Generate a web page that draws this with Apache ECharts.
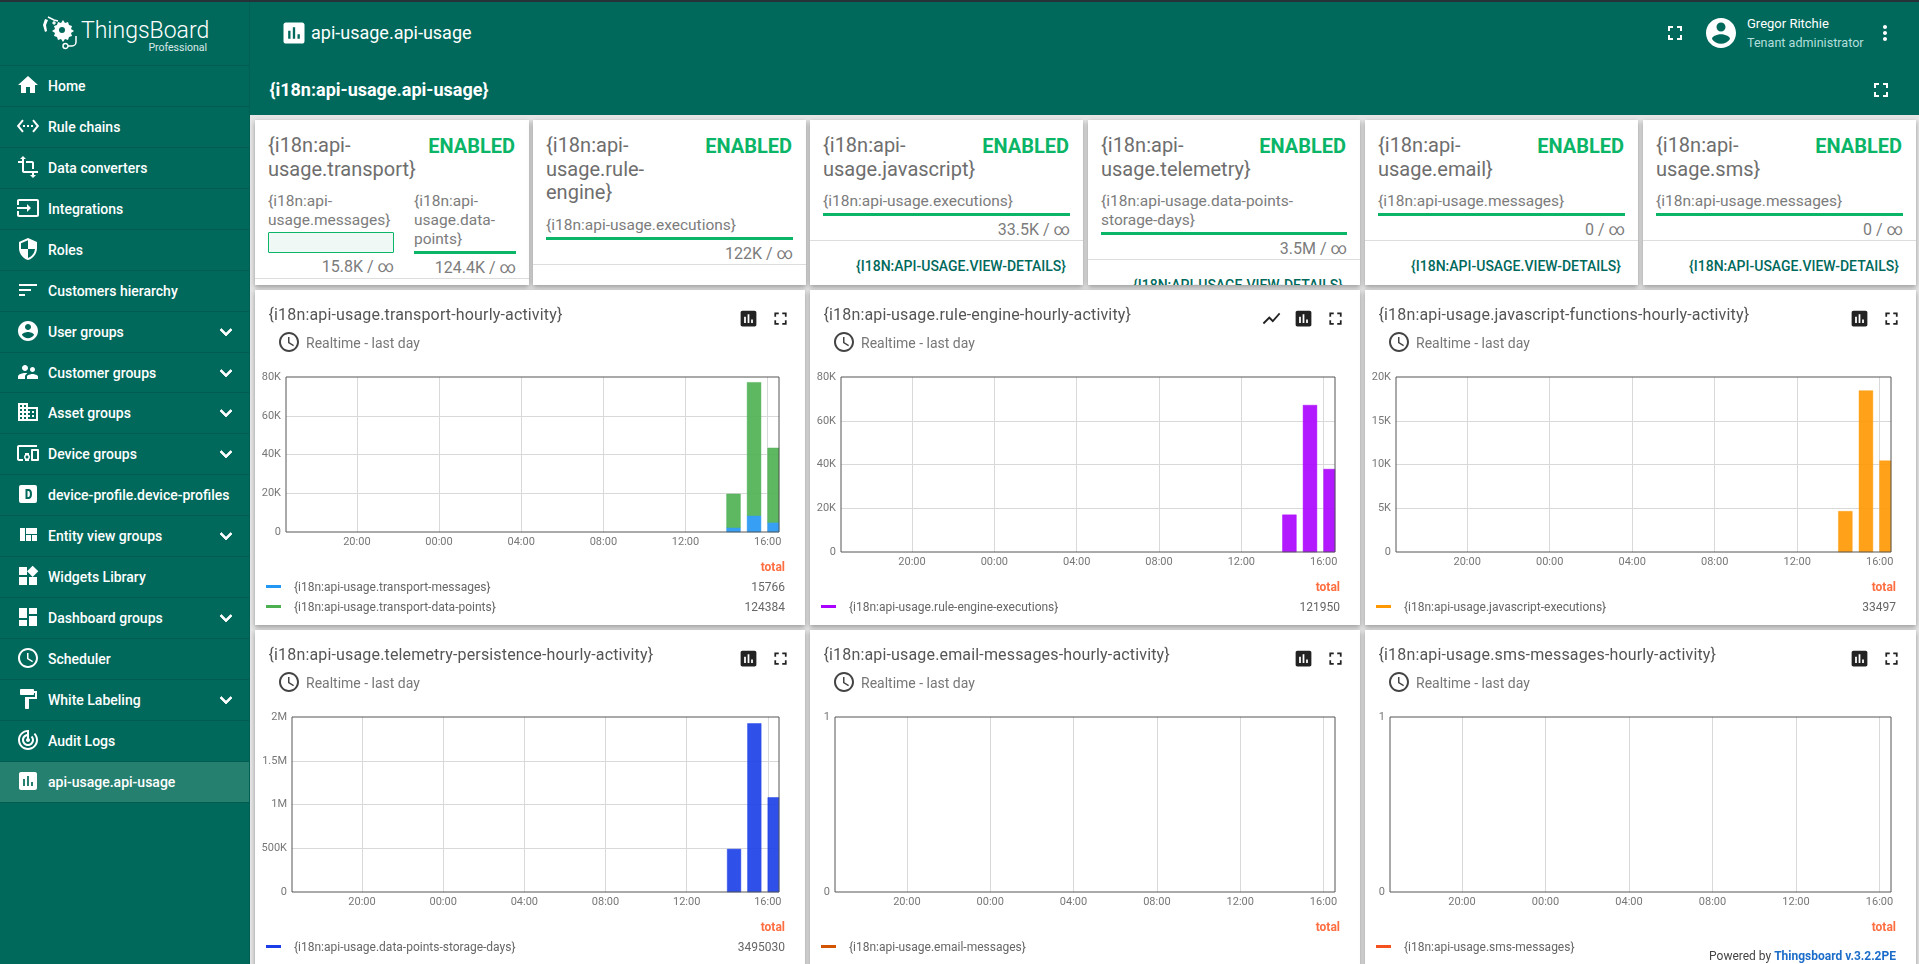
<!DOCTYPE html>
<html>
<head>
<meta charset="utf-8">
<title>api-usage.api-usage</title>
<script src="https://cdn.jsdelivr.net/npm/echarts@6/dist/echarts.min.js"></script>
<style>
html, body { margin: 0; padding: 0; width: 1919px; height: 964px; overflow: hidden; background: #e6e6e6; font-family: Roboto, sans-serif; }
svg { display: block; fill: currentColor; }
.abs { position: absolute; }
#topline { left: 0; top: 0; width: 1919px; height: 2px; background: #263238; z-index: 5; }
#side { left: 0; top: 0; width: 250px; height: 964px; background: #00695c; color: #fff; border-right: 1px solid #005f53; box-sizing: border-box; }
#head { left: 250px; top: 0; width: 1669px; height: 115px; background: #00695c; color: #fff; }
.row { position: absolute; left: 0; width: 249px; height: 41px; border-top: 1px solid #005c50; box-sizing: border-box; }
.row.on { background: #26806f; }
.row span { position: absolute; left: 48px; top: 11px; font-size: 14px; font-weight: 500; line-height: 18px; white-space: nowrap; }
.row svg.i { position: absolute; left: 16px; top: 7px; }
.row svg.c { position: absolute; left: 214px; top: 8px; stroke: currentColor; stroke-width: .8px; }
.usage { position: absolute; top: 120px; height: 165px; background: #fff; box-shadow: 0 2px 5px rgba(0,0,0,.35); overflow: hidden; }
.usage .t { position: absolute; left: 13px; top: 14px; font-size: 20px; line-height: 23.5px; color: #6e6e6e; white-space: nowrap; }
.usage .s { position: absolute; right: 14px; top: 14px; font-size: 20px; line-height: 24px; font-weight: 700; color: #0bb567; }
.usage .b { position: absolute; left: 13px; right: 13px; }
.usage .l { font-size: 15.5px; line-height: 19px; color: #7c7c7c; white-space: nowrap; }
.usage .p { height: 3px; background: #0bb567; margin-top: 2px; }
.usage .v { font-size: 16px; line-height: 22px; margin-top: 3px; color: #7c7c7c; text-align: right; white-space: nowrap; }
.usage .d { position: absolute; left: 0; right: 0; height: 1px; background: #ddd; }
.usage .a { position: absolute; right: 17px; font-size: 14px; line-height: 20px; font-weight: 500; color: #00695c; white-space: nowrap; }
.card { position: absolute; background: #fff; box-shadow: 0 2px 5px rgba(0,0,0,.35); overflow: hidden; }
.card .plot { position: absolute; left: 0; top: 0; width: 100%; height: 100%; }
.card .ttl { position: absolute; left: 13.5px; top: 15px; font-size: 16px; line-height: 20px; color: #555; letter-spacing: .16px; white-space: nowrap; }
.card .clk { position: absolute; left: 22px; top: 40px; color: #444; }
.card .rt { position: absolute; left: 51px; top: 44px; font-size: 14px; line-height: 18px; color: #777; white-space: nowrap; }
.card .ic { position: absolute; top: 18px; color: #222; }
.card .tot { position: absolute; right: 20px; font-size: 12px; line-height: 14px; font-weight: 700; color: #ff6e40; }
.card .sw { position: absolute; left: 11px; width: 15px; height: 3px; }
.card .lg { position: absolute; left: 39px; font-size: 12px; line-height: 14px; color: #666; white-space: nowrap; }
.card .nm { position: absolute; right: 20px; font-size: 12px; line-height: 14px; color: #666; white-space: nowrap; }
</style>
</head>
<body>
<div id="topline" class="abs"></div>
<div id="side" class="abs">
  <svg class="abs" style="left:42px;top:13px" width="38" height="38" viewBox="0 0 38 38"><path d="M12 9a1 1 0 1 0 .1 0zM6 4l6 3 4 1" fill="none" stroke="#fff" stroke-width="1.4"/><path d="M3 6 1 12l2 7 2-1-1-6 2-5z"/><path d="M21 7l2 3 3-1 1 3 3 1-1 3 3 2-3 2 1 3-3 1-1 3-3-1-2 3-2-3-3 1-1-3-3-1 1-3-3-2 3-2-1-3 3-1 1-3 3 1z"/><circle cx="20" cy="17" r="3" fill="#00695c"/><path d="M34 23v6a4 4 0 0 1-4 4h-4M26 33a2.500 2.500 0 1 0-5 0 2.500 2.500 0 1 0 5 0z" fill="none" stroke="#fff" stroke-width="1.500"/></svg>
  <div class="abs" style="left:81px;top:16px;font-size:23px;line-height:30px;font-weight:300;white-space:nowrap">ThingsBoard</div>
  <div class="abs" style="right:42px;top:41px;font-size:10.500px;line-height:13px;opacity:.85">Professional</div>
</div>
<div id="head" class="abs">
  <svg class="abs" style="left:30px;top:19px" width="28" height="28" viewBox="0 0 24 24"><path d="M19 3H5c-1.100 0-2 .9-2 2v14c0 1.100.9 2 2 2h14c1.100 0 2-.9 2-2V5c0-1.100-.9-2-2-2zM9 17H7v-7h2v7zm4 0h-2V7h2v10zm4 0h-2v-4h2v4z"/></svg>
  <div class="abs" style="left:61px;top:21px;font-size:18px;line-height:24px;font-weight:400;white-space:nowrap">api-usage.api-usage</div>
  <div class="abs" style="left:19.500px;top:78px;font-size:18px;line-height:24px;font-weight:700;white-space:nowrap">{i18n:api-usage.api-usage}</div>
  <svg class="abs" style="left:1413px;top:21px" width="24" height="24" viewBox="0 0 24 24"><path d="M7 14H5v5h5v-2H7v-3zm-2-4h2V7h3V5H5v5zm12 7h-3v2h5v-5h-2v3zM14 5v2h3v3h2V5h-5z"/></svg>
  <svg class="abs" style="left:1453px;top:15px" width="36" height="36" viewBox="0 0 24 24"><path d="M12 2C6.480 2 2 6.480 2 12s4.480 10 10 10 10-4.480 10-10S17.520 2 12 2zm0 3c1.660 0 3 1.340 3 3s-1.340 3-3 3-3-1.340-3-3 1.340-3 3-3zm0 14.200c-2.500 0-4.710-1.280-6-3.220.03-1.990 4-3.080 6-3.080 1.990 0 5.970 1.090 6 3.080-1.290 1.940-3.500 3.220-6 3.220z"/></svg>
  <div class="abs" style="left:1497px;top:15px;font-size:13px;line-height:17px;white-space:nowrap">Gregor Ritchie</div>
  <div class="abs" style="left:1497px;top:34px;font-size:12.600px;line-height:17px;color:#b2dfdb;white-space:nowrap">Tenant administrator</div>
  <svg class="abs" style="left:1623px;top:21px" width="24" height="24" viewBox="0 0 24 24"><path d="M12 8c1.100 0 2-.9 2-2s-.9-2-2-2-2 .9-2 2 .9 2 2 2zm0 2c-1.100 0-2 .9-2 2s.9 2 2 2 2-.9 2-2-.9-2-2-2zm0 6c-1.100 0-2 .9-2 2s.9 2 2 2 2-.9 2-2-.9-2-2-2z"/></svg>
  <svg class="abs" style="left:1619px;top:78px" width="24" height="24" viewBox="0 0 24 24"><path d="M7 14H5v5h5v-2H7v-3zm-2-4h2V7h3V5H5v5zm12 7h-3v2h5v-5h-2v3zM14 5v2h3v3h2V5h-5z"/></svg>
</div>
<div id="cards"></div>
<div class="abs" style="right:23px;top:949px;font-size:12px;line-height:15px;color:#444;z-index:4;white-space:nowrap">Powered by <b style="color:#1c6dc9;font-weight:700">Thingsboard v.3.2.2PE</b></div>

<script>
// hourly buckets that have data, everything earlier in the window is empty
var barHours = [14, 15, 16];
var transportMessages = [2300, 8500, 4966];
var transportDataPoints = [17300, 68700, 38384];
var ruleEngineExecutions = [17000, 67100, 37850];
var javascriptExecutions = [4650, 18430, 10417];
var storageDays = [490000, 1925000, 1080030];
var emailMessages = [];
var smsMessages = [];

var transportTotals = ['15766', '124384'];
var ruleEngineTotals = ['121950'];
var javascriptTotals = ['33497'];
var storageTotals = ['3495030'];
var noTotals = [''];

var icons = {
    home: 'M10 20v-6h4v6h5v-8h3L12 3 2 12h3v8z',
    rule: 'M7.770 6.760L6.230 5.480.82 12l5.410 6.520 1.540-1.280L3.420 12l4.350-5.240zM7 13h2v-2H7v2zm10-2h-2v2h2v-2zm-6 2h2v-2h-2v2zm6.770-7.520l-1.540 1.280L20.580 12l-4.350 5.240 1.540 1.280L23.180 12l-5.410-6.520z',
    transform: 'M22 18v-2H8V4h2L7 1 4 4h2v2H2v2h4v8c0 1.100.9 2 2 2h8v2h-2l3 3 3-3h-2v-2h4zM10 8h6v6h2V8c0-1.100-.9-2-2-2h-6v2z',
    input: 'M21 3.010H3c-1.100 0-2 .9-2 2V9h2V4.990h18v14.030H3V15H1v4.010c0 1.100.9 1.980 2 1.980h18c1.100 0 2-.88 2-1.980v-14c0-1.110-.9-2-2-2zM11 16l4-4-4-4v3H1v2h10v3z',
    shield: 'M12 1L3 5v6c0 5.550 3.840 10.740 9 12 5.160-1.260 9-6.450 9-12V5l-9-4zm0 10.990h7c-.53 4.120-3.280 7.790-7 8.940V12H5V6.300l7-3.110v8.800z',
    sort: 'M3 18h6v-2H3v2zM3 6v2h18V6H3zm0 7h12v-2H3v2z',
    account: 'M12 2C6.480 2 2 6.480 2 12s4.480 10 10 10 10-4.480 10-10S17.520 2 12 2zm0 3c1.660 0 3 1.340 3 3s-1.340 3-3 3-3-1.340-3-3 1.340-3 3-3zm0 14.200c-2.500 0-4.710-1.280-6-3.220.03-1.990 4-3.080 6-3.080 1.990 0 5.970 1.090 6 3.080-1.290 1.940-3.500 3.220-6 3.220z',
    people: 'M16.500 12c1.380 0 2.490-1.120 2.490-2.500S17.880 7 16.500 7C15.120 7 14 8.120 14 9.500s1.120 2.500 2.500 2.500zM9 11c1.660 0 2.990-1.340 2.990-3S10.660 5 9 5C7.340 5 6 6.340 6 8s1.340 3 3 3zm7.500 3c-1.830 0-5.500.92-5.500 2.750V19h11v-2.250c0-1.830-3.670-2.750-5.500-2.750zM9 13c-2.330 0-7 1.170-7 3.500V19h7v-2.250c0-.85.33-2.340 2.370-3.470C10.500 13.100 9.660 13 9 13z',
    domain: 'M12 7V3H2v18h20V7H12zM6 19H4v-2h2v2zm0-4H4v-2h2v2zm0-4H4V9h2v2zm0-4H4V5h2v2zm4 12H8v-2h2v2zm0-4H8v-2h2v2zm0-4H8V9h2v2zm0-4H8V5h2v2zm10 12h-8v-2h2v-2h-2v-2h2v-2h-2V9h8v10zm-2-8h-2v2h2v-2zm0 4h-2v2h2v-2z',
    devices: 'M3 6h18V4H3c-1.100 0-2 .9-2 2v12c0 1.100.9 2 2 2h4v-2H3V6zm10 6H9v1.780c-.61.55-1 1.330-1 2.220s.39 1.670 1 2.220V20h4v-1.780c.61-.55 1-1.340 1-2.220s-.39-1.670-1-2.220V12zm-2 5.500c-.83 0-1.500-.67-1.500-1.500s.67-1.500 1.500-1.500 1.500.67 1.500 1.500-.67 1.500-1.500 1.500zM22 8h-6c-.5 0-1 .5-1 1v10c0 .5.5 1 1 1h6c.5 0 1-.5 1-1V9c0-.5-.5-1-1-1zm-1 10h-4v-8h4v8z',
    profile: 'M5 3h14a2 2 0 0 1 2 2v14a2 2 0 0 1-2 2H5a2 2 0 0 1-2-2V5a2 2 0 0 1 2-2zm4.500 4v10h3c2.200 0 3.500-1.800 3.500-5s-1.300-5-3.500-5h-3zm2 2h1c.9 0 1.400 1 1.400 3s-.5 3-1.400 3h-1V9z',
    quilt: 'M10 18h5v-6h-5v6zm-6 0h5V5H4v13zm12 0h5v-6h-5v6zM10 5v6h11V5H10z',
    widgets: 'M13 13v8h8v-8h-8zM3 21h8v-8H3v8zM3 3v8h8V3H3zm13.660-1.310L11 7.340 16.660 13l5.660-5.660-5.660-5.650z',
    dashboard: 'M3 13h8V3H3v10zm0 8h8v-6H3v6zm10 0h8V11h-8v10zm0-18v6h8V3h-8z',
    schedule: 'M11.990 2C6.470 2 2 6.480 2 12s4.470 10 9.990 10C17.520 22 22 17.520 22 12S17.520 2 11.990 2zM12 20c-4.420 0-8-3.580-8-8s3.580-8 8-8 8 3.580 8 8-3.580 8-8 8zm.5-13H11v6l5.250 3.150.75-1.230-4.500-2.670z',
    paint: 'M18 4V3c0-.55-.45-1-1-1H5c-.55 0-1 .45-1 1v4c0 .55.45 1 1 1h12c.55 0 1-.45 1-1V6h1v4H9v11c0 .55.45 1 1 1h2c.55 0 1-.45 1-1v-9h8V4h-3z',
    track: 'M19.070 4.930l-1.410 1.410C19.100 7.790 20 9.790 20 12c0 4.420-3.580 8-8 8s-8-3.580-8-8c0-4.080 3.050-7.440 7-7.930v2.020C8.160 6.570 6 9.030 6 12c0 3.310 2.690 6 6 6s6-2.690 6-6c0-1.660-.67-3.160-1.760-4.240l-1.410 1.410C15.550 9.900 16 10.900 16 12c0 2.210-1.790 4-4 4s-4-1.790-4-4c0-1.860 1.280-3.410 3-3.860v2.140c-.6.35-1 .98-1 1.720 0 1.100.9 2 2 2s2-.9 2-2c0-.74-.4-1.380-1-1.720V2h-1C6.480 2 2 6.480 2 12s4.480 10 10 10 10-4.480 10-10c0-2.760-1.120-5.260-2.930-7.070z',
    chart: 'M19 3H5c-1.100 0-2 .9-2 2v14c0 1.100.9 2 2 2h14c1.100 0 2-.9 2-2V5c0-1.100-.9-2-2-2zM9 17H7v-7h2v7zm4 0h-2V7h2v10zm4 0h-2v-4h2v4z',
    line: 'M3.500 18.490l6-6.010 4 4L22 6.920l-1.410-1.410-7.090 7.970-4-4L2 16.990z',
    full: 'M7 14H5v5h5v-2H7v-3zm-2-4h2V7h3V5H5v5zm12 7h-3v2h5v-5h-2v3zM14 5v2h3v3h2V5h-5z',
    more: 'M16.590 8.590L12 13.170 7.410 8.590 6 10l6 6 6-6z'
};

var menu = [
    ['home', 'Home'], ['rule', 'Rule chains'], ['transform', 'Data converters'], ['input', 'Integrations'],
    ['shield', 'Roles'], ['sort', 'Customers hierarchy'], ['account', 'User groups', 1], ['people', 'Customer groups', 1],
    ['domain', 'Asset groups', 1], ['devices', 'Device groups', 1], ['profile', 'device-profile.device-profiles'],
    ['quilt', 'Entity view groups', 1], ['widgets', 'Widgets Library'], ['dashboard', 'Dashboard groups', 1],
    ['schedule', 'Scheduler'], ['paint', 'White Labeling', 1], ['track', 'Audit Logs'], ['chart', 'api-usage.api-usage']
];

function svg(name, size, cls) {
    return '<svg class="' + cls + '" width="' + size + '" height="' + size + '" viewBox="0 0 24 24"><path d="' + icons[name] + '"/></svg>';
}

var sideHtml = '';
for (var i = 0; i < menu.length; i++) {
    var rowTop = 65 + i * 40.93;
    sideHtml += '<div class="row' + (i == menu.length - 1 ? ' on' : '') + '" style="top:' + rowTop + 'px">' +
        svg(menu[i][0], 24, 'i') + '<span>' + menu[i][1] + '</span>' + (menu[i][2] ? svg('more', 24, 'c') : '') + '</div>';
}
document.getElementById('side').insertAdjacentHTML('beforeend', sideHtml + '<div class="row" style="top:' + (65 + menu.length * 40.93) + 'px;height:1px"></div>');

var viewDetails = '{I18N:API-USAGE.VIEW-DETAILS}';
var usageCards = [
    {left: 255, width: 274, title: '{i18n:api-<br>usage.transport}', cols: [
        {left: 13, width: 126, label: '{i18n:api-<br>usage.messages}', top: 72, value: '15.8K / ∞', boxed: true},
        {left: 159, width: 102, label: '{i18n:api-<br>usage.data-<br>points}', top: 72, value: '124.4K / ∞'}
    ], rule: 158},
    {left: 533, width: 273, title: '{i18n:api-<br>usage.rule-<br>engine}', label: '{i18n:api-usage.executions}', top: 96, value: '122K / ∞', rule: 144, link: 162},
    {left: 810, width: 273, title: '{i18n:api-<br>usage.javascript}', label: '{i18n:api-usage.executions}', top: 72, value: '33.5K / ∞', rule: 120, link: 136},
    {left: 1088, width: 272, title: '{i18n:api-<br>usage.telemetry}', label: '{i18n:api-usage.data-points-<br>storage-days}', top: 72, value: '3.5M / ∞', rule: 139, link: 155},
    {left: 1365, width: 273, title: '{i18n:api-<br>usage.email}', label: '{i18n:api-usage.messages}', top: 72, value: '0 / ∞', rule: 120, link: 136},
    {left: 1643, width: 273, title: '{i18n:api-<br>usage.sms}', label: '{i18n:api-usage.messages}', top: 72, value: '0 / ∞', rule: 120, link: 136}
];

function usageBlock(c) {
    return '<div class="l">' + c.label + '</div><div class="p"></div><div class="v">' + c.value + '</div>';
}

var cardsHtml = '';
usageCards.forEach(function (u) {
    var inner = '<div class="t">' + u.title + '</div><div class="s">ENABLED</div>';
    if (u.cols) {
        u.cols.forEach(function (c) {
            var bar = c.boxed
                ? '<div class="p" style="height:21px;box-sizing:border-box;border:1.500px solid #0bb567;background:#eff8f4;border-radius:1px"></div>'
                : '<div class="p"></div>';
            inner += '<div class="b" style="left:' + c.left + 'px;right:auto;width:' + c.width + 'px;top:' + c.top + 'px">' +
                '<div class="l" style="' + (c.boxed ? 'height:38px' : 'height:57px') + '">' + c.label + '</div>' + bar +
                '<div class="v">' + c.value + '</div></div>';
        });
    } else {
        inner += '<div class="b" style="top:' + u.top + 'px">' + usageBlock(u) + '</div>';
    }
    inner += '<div class="d" style="top:' + u.rule + 'px"></div>';
    if (u.link) inner += '<div class="a" style="top:' + u.link + 'px">' + viewDetails + '</div>';
    cardsHtml += '<div class="usage" style="left:' + u.left + 'px;width:' + u.width + 'px">' + inner + '</div>';
});

var charts = [
    {left: 255, top: 290, width: 550, height: 335, plot: [286, 779], plotTop: 377, plotBottom: 532, totalTop: 560,
        title: '{i18n:api-usage.transport-hourly-activity}', max: 80000, interval: 20000,
        series: [['{i18n:api-usage.transport-messages}', '#2196f3', transportMessages], ['{i18n:api-usage.transport-data-points}', '#4caf50', transportDataPoints]], totals: transportTotals},
    {left: 810, top: 290, width: 550, height: 335, plot: [841, 1335], plotTop: 377, plotBottom: 552, totalTop: 580, line: true,
        title: '{i18n:api-usage.rule-engine-hourly-activity}', max: 80000, interval: 20000,
        series: [['{i18n:api-usage.rule-engine-executions}', '#aa00ff', ruleEngineExecutions]], totals: ruleEngineTotals},
    {left: 1365, top: 290, width: 551, height: 335, plot: [1396, 1891], plotTop: 377, plotBottom: 552, totalTop: 580,
        title: '{i18n:api-usage.javascript-functions-hourly-activity}', max: 20000, interval: 5000,
        series: [['{i18n:api-usage.javascript-executions}', '#ff9800', javascriptExecutions]], totals: javascriptTotals},
    {left: 255, top: 630, width: 550, height: 340, plot: [292, 779], plotTop: 717, plotBottom: 892, totalTop: 920,
        title: '{i18n:api-usage.telemetry-persistence-hourly-activity}', max: 2000000, interval: 500000,
        series: [['{i18n:api-usage.data-points-storage-days}', '#1a3de8', storageDays]], totals: storageTotals},
    {left: 810, top: 630, width: 550, height: 340, plot: [835, 1335], plotTop: 717, plotBottom: 892, totalTop: 920,
        title: '{i18n:api-usage.email-messages-hourly-activity}', max: 1, interval: 1,
        series: [['{i18n:api-usage.email-messages}', '#d35400', emailMessages]], totals: noTotals},
    {left: 1365, top: 630, width: 551, height: 340, plot: [1390, 1891], plotTop: 717, plotBottom: 892, totalTop: 920,
        title: '{i18n:api-usage.sms-messages-hourly-activity}', max: 1, interval: 1,
        series: [['{i18n:api-usage.sms-messages}', '#f4511e', smsMessages]], totals: noTotals}
];

charts.forEach(function (c, n) {
    var inner = '<div class="plot" id="plot' + n + '"></div>' +
        '<div class="ttl">' + c.title + '</div>' +
        svg('schedule', 24, 'clk') + '<div class="rt">Realtime - last day</div>';
    var iconX = c.width - 35;
    inner += '<div class="ic" style="left:' + iconX + 'px">' + svg('full', 21, '') + '</div>';
    inner += '<div class="ic" style="left:' + (iconX - 32) + 'px">' + svg('chart', 21, '') + '</div>';
    if (c.line) inner += '<div class="ic" style="left:' + (iconX - 64) + 'px">' + svg('line', 21, '') + '</div>';
    inner += '<div class="tot" style="top:' + (c.totalTop - c.top) + 'px">total</div>';
    c.series.forEach(function (s, k) {
        var y = c.totalTop - c.top + 20 + k * 20;
        inner += '<div class="sw" style="top:' + (y + 5) + 'px;background:' + s[1] + '"></div>' +
            '<div class="lg" style="top:' + y + 'px">' + s[0] + '</div>' +
            '<div class="nm" style="top:' + y + 'px">' + c.totals[k] + '</div>';
    });
    cardsHtml += '<div class="card" style="left:' + c.left + 'px;top:' + c.top + 'px;width:' + c.width + 'px;height:' + c.height + 'px">' + inner + '</div>';
});
document.getElementById('cards').innerHTML = cardsHtml;

// the axis window is one day ending just after the last bucket opened
var windowStart = new Date(2021, 5, 9, 16, 33).getTime();
var windowEnd = new Date(2021, 5, 10, 16, 33).getTime();
var HOUR = 3600 * 1000;
// flot draws a bucket's bar from the hour onward, two thirds of the hour wide
var barSpan = HOUR * 0.67;

function shortNumber(v) {
    if (v >= 1000000) return v / 1000000 + 'M';
    if (v >= 1000) return v / 1000 + 'K';
    return '' + v;
}

function rgba(hex, a) {
    var n = parseInt(hex.slice(1), 16);
    return 'rgba(' + (n >> 16) + ',' + ((n >> 8) & 255) + ',' + (n & 255) + ',' + a + ')';
}

// a real bar series would pad the time axis, so bars go through custom + api.coord
function renderBar(params, api) {
    var start = api.coord([api.value(0), api.value(2)]);
    var end = api.coord([api.value(1), api.value(3)]);
    var cs = params.coordSys;
    var rect = echarts.graphic.clipRectByRect(
        {x: start[0], y: end[1], width: end[0] - start[0], height: start[1] - end[1]},
        {x: cs.x, y: cs.y, width: cs.width, height: cs.height}
    );
    return rect && {type: 'rect', shape: rect, style: api.style()};
}

charts.forEach(function (c, n) {
    var myChart = echarts.init(document.getElementById('plot' + n));
    var base = [0, 0, 0];
    myChart.setOption({
        animation: false,
        grid: {
            show: true,
            z: 5,
            left: c.plot[0] - c.left,
            right: c.left + c.width - c.plot[1],
            top: c.plotTop - c.top,
            height: c.plotBottom - c.plotTop,
            borderColor: '#555',
            borderWidth: 1,
            backgroundColor: 'transparent'
        },
        xAxis: {
            type: 'time',
            min: windowStart,
            max: windowEnd,
            minInterval: 4 * HOUR,
            maxInterval: 4 * HOUR,
            axisLine: {show: false},
            axisTick: {show: false},
            axisLabel: {
                formatter: '{HH}:{mm}',
                color: '#777',
                fontSize: 11,
                fontFamily: 'Roboto',
                fontWeight: 'normal',
                margin: 5,
                showMinLabel: false,
                showMaxLabel: false,
                hideOverlap: false
            },
            splitLine: {show: true, showMinLine: false, showMaxLine: false, lineStyle: {color: '#d9d9d9', width: 1}}
        },
        yAxis: {
            type: 'value',
            min: 0,
            max: c.max,
            interval: c.interval,
            axisLine: {show: false},
            axisTick: {show: false},
            axisLabel: {formatter: shortNumber, color: '#777', fontSize: 11, fontFamily: 'Roboto', margin: 5},
            splitLine: {show: c.max > 1, showMinLine: false, showMaxLine: false, lineStyle: {color: '#d9d9d9', width: 1}}
        },
        series: c.series.map(function (s) {
            return {
                name: s[0],
                type: 'custom',
                z: 2,
                renderItem: renderBar,
                encode: {x: [0, 1], y: [2, 3]},
                itemStyle: {color: rgba(s[1], 0.9), borderColor: rgba(s[1], 0.45), borderWidth: 1},
                data: s[2].map(function (v, k) {
                    var hour = new Date(2021, 5, 10, barHours[k]).getTime();
                    var row = [hour, hour + barSpan, base[k], base[k] + v];
                    base[k] += v;
                    return row;
                })
            };
        })
    });
});
</script>
</body>
</html>
